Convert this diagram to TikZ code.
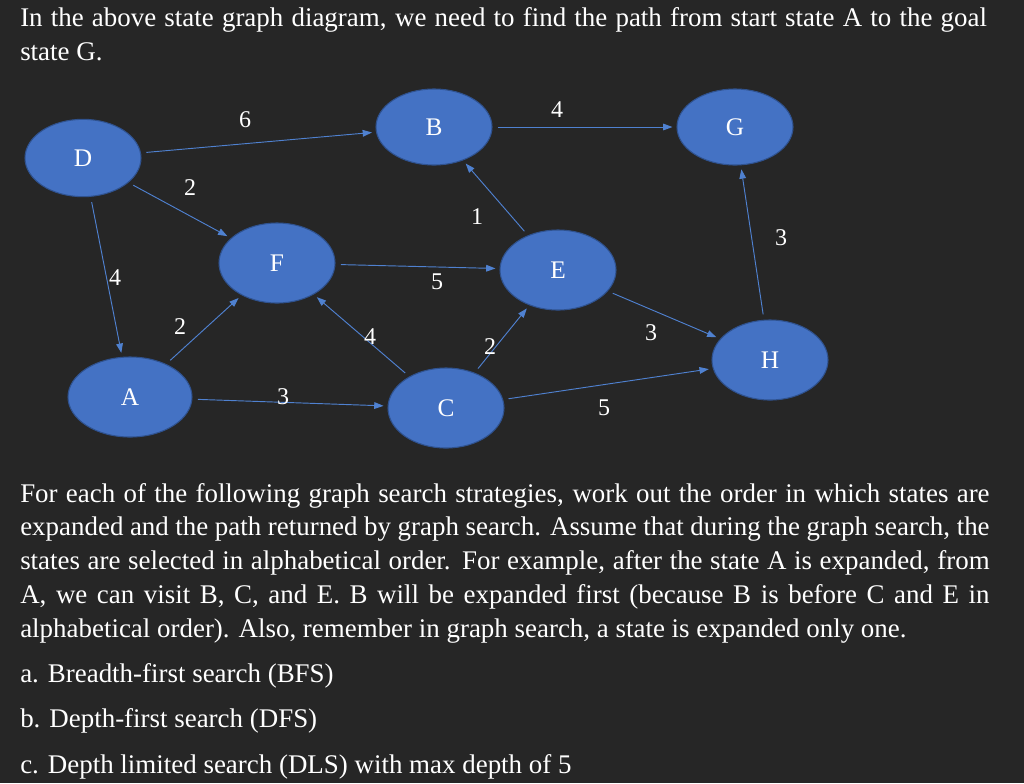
\documentclass[tikz,border=0pt]{standalone}
\usepackage{fontspec}
\setmainfont{Liberation Serif}
\usetikzlibrary{shapes.geometric,arrows.meta}
\definecolor{bg}{HTML}{262626}
\definecolor{nfill}{HTML}{4472C4}
\definecolor{nline}{HTML}{2F528F}
\definecolor{eline}{HTML}{4F81D0}
\begin{document}
\begin{tikzpicture}[x=0.75pt,y=-0.75pt,
  st/.style={ellipse,fill=nfill,draw=nline,line width=0.8pt,inner sep=0pt,minimum width=#1,minimum height=60pt,text=white,font=\fontsize{19}{20}\selectfont},
  st/.default=87pt,
  ed/.style={draw=eline,line width=0.7pt,-{Triangle[length=7pt,width=5pt]},shorten <=4pt,shorten >=3pt},
  el/.style={text=white,font=\fontsize{18}{20}\selectfont},
  tx/.style={text=white,anchor=base west,inner sep=0pt,font=\fontsize{20.2}{22}\selectfont},
  jl/.style={text=white,anchor=base west,inner sep=0pt,font=\fontsize{20.2}{22}\selectfont}]
\fill[bg] (0,0) rectangle (1024,783);
\node[st,minimum height=58pt] (D) at (83,158) {D};
\node[st,minimum height=57pt] (B) at (434,127) {B};
\node[st,minimum height=57pt] (G) at (735,127) {G};
\node[st] (F) at (277,263) {F};
\node[st] (E) at (558,270) {E};
\node[st=93pt] (A) at (130,397) {A};
\node[st] (C) at (446,408) {C};
\node[st] (H) at (770,360) {H};
\draw[ed] (D) -- (B); \node[el] at (245,120) {6};
\draw[ed] (B) -- (G); \node[el] at (557,110) {4};
\draw[ed] (D) -- (F); \node[el] at (190,188) {2};
\draw[ed] (D) -- (A); \node[el] at (115,278) {4};
\draw[ed] (E) -- (B); \node[el] at (477,217) {1};
\draw[ed] (F) -- (E); \node[el] at (437,282) {5};
\draw[ed] (A) -- (F); \node[el] at (180,327) {2};
\draw[ed] (C) -- (F); \node[el] at (370,337) {4};
\draw[ed] (C) -- (E); \node[el] at (490,347) {2};
\draw[ed] (E) -- (H); \node[el] at (651,333) {3};
\draw[ed] (H) -- (G); \node[el] at (781,238) {3};
\draw[ed] (A) -- (C); \node[el] at (283,397) {3};
\draw[ed] (C) -- (H); \node[el] at (604,408) {5};
\node[tx] (t1) at (20,26) {\makebox[725pt][s]{In the above state graph diagram, we need to find the path from start state A to the goal}};
\node[tx] (t2) at (20,60) {state G.};
\node[jl] (p1) at (20,502) {\makebox[727pt][s]{For each of the following graph search strategies, work out the order in which states are}};
\node[jl] (p2) at (20,535) {\makebox[727pt][s]{expanded and the path returned by graph search. Assume that during the graph search, the}};
\node[jl] (p3) at (20,569) {\makebox[727pt][s]{states are selected in alphabetical order. For example, after the state A is expanded, from}};
\node[jl] (p4) at (20,603) {\makebox[727pt][s]{A, we can visit B, C, and E. B will be expanded first (because B is before C and E in}};
\node[tx] (p5) at (20,637) {alphabetical order). Also, remember in graph search, a state is expanded only one.};
\node[tx] (a) at (20,682) {a. Breadth-first search (BFS)};
\node[tx] (b) at (20,727) {b. Depth-first search (DFS)};
\node[tx] (c) at (20,773) {c. Depth limited search (DLS) with max depth of 5};
\end{tikzpicture}
\end{document}
